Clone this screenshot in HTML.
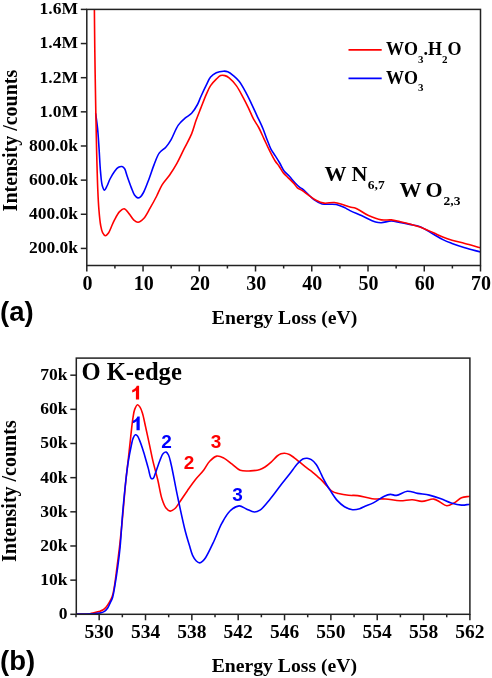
<!DOCTYPE html><html><head><meta charset="utf-8"><style>html,body{margin:0;padding:0;background:#fff;}svg{display:block;will-change:transform}</style></head><body>
<svg width="492" height="678" viewBox="0 0 492 678">
<defs><clipPath id="ct"><rect x="86.8" y="9.4" width="393.7" height="256.1"/></clipPath>
<clipPath id="cb"><rect x="76.3" y="358.1" width="393.6" height="257.1"/></clipPath></defs>
<g clip-path="url(#ct)" fill="none" stroke-width="1.60" stroke-linejoin="round" stroke-linecap="round">
<path stroke="#0000ff" d="M95.70,113.80 C96.33,118.73 97.06,123.25 97.60,128.60 C98.23,134.89 98.62,142.20 99.10,149.20 C99.59,156.46 99.88,164.82 100.50,171.40 C101.00,176.70 101.29,182.36 102.30,185.70 C102.89,187.65 103.71,190.07 104.50,190.10 C105.28,190.13 106.18,187.58 107.00,186.00 C108.03,184.01 108.81,181.34 110.00,179.00 C111.28,176.48 112.91,173.47 114.50,171.40 C115.78,169.73 117.10,168.09 118.50,167.30 C119.59,166.68 120.89,166.28 121.90,166.50 C122.88,166.71 123.75,167.46 124.50,168.50 C125.69,170.15 126.19,173.46 127.20,176.30 C128.41,179.72 129.97,184.25 131.30,187.60 C132.39,190.34 133.19,193.20 134.50,195.00 C135.47,196.33 136.70,197.71 137.80,197.90 C138.70,198.05 139.67,197.47 140.50,196.80 C141.62,195.91 142.46,194.42 143.50,192.50 C145.25,189.27 147.34,183.32 149.10,178.70 C150.84,174.12 152.26,169.29 154.00,164.90 C155.64,160.78 156.96,156.18 159.20,153.10 C161.05,150.55 163.84,149.40 165.80,147.20 C167.78,144.97 169.24,142.77 171.00,139.80 C173.38,135.81 175.50,128.99 178.30,125.10 C180.53,121.99 183.30,119.78 185.70,117.70 C187.71,115.96 189.78,115.21 191.60,113.30 C193.78,111.01 195.93,107.39 197.50,104.50 C198.87,101.97 199.45,99.78 200.70,97.00 C202.30,93.43 204.60,88.47 206.40,84.90 C207.87,81.99 208.82,79.17 210.60,77.10 C212.20,75.24 214.18,73.78 216.30,72.80 C218.44,71.81 221.32,71.31 223.40,71.20 C225.00,71.11 226.24,71.15 227.70,71.70 C229.55,72.39 231.57,74.08 233.40,75.60 C235.38,77.24 237.29,79.00 239.10,81.30 C241.30,84.08 243.31,87.81 245.30,91.40 C247.45,95.28 249.55,99.75 251.50,103.80 C253.34,107.64 254.89,111.17 256.70,115.10 C258.67,119.38 261.12,124.22 262.90,128.50 C264.49,132.32 265.63,136.00 267.00,139.50 C268.27,142.74 269.34,145.97 270.80,148.80 C272.14,151.39 273.81,153.53 275.30,155.90 C276.78,158.26 278.26,160.54 279.70,163.00 C281.20,165.57 282.38,168.71 284.10,171.00 C285.66,173.08 287.67,174.43 289.40,176.30 C291.21,178.25 292.96,180.64 294.70,182.50 C296.22,184.13 297.83,185.80 299.20,186.90 C300.20,187.70 300.95,187.90 302.00,188.70 C303.55,189.87 305.53,191.79 307.40,193.50 C309.48,195.40 311.48,197.88 313.90,199.60 C316.37,201.36 318.88,203.03 322.10,203.90 C326.09,204.97 332.28,203.67 336.30,204.50 C339.44,205.15 341.98,206.49 344.40,207.60 C346.47,208.55 347.78,209.52 350.00,210.60 C353.11,212.11 357.40,213.82 361.40,215.60 C365.88,217.59 371.86,220.95 375.60,222.00 C377.87,222.63 379.14,222.75 381.30,222.70 C384.17,222.63 388.10,221.01 391.30,221.00 C394.25,220.99 396.86,221.86 399.80,222.40 C402.98,222.98 406.37,223.69 409.70,224.40 C413.10,225.12 416.44,225.35 420.00,226.70 C424.31,228.34 429.36,231.86 433.50,234.20 C437.06,236.22 440.16,238.32 443.40,239.90 C446.32,241.33 448.83,242.22 452.00,243.40 C455.82,244.82 460.30,246.33 464.80,247.70 C469.72,249.20 475.20,250.57 480.40,252.00"/>
<path stroke="#ff0000" d="M94.30,0.00 C94.47,16.67 94.58,33.33 94.80,50.00 C95.02,66.67 95.30,83.33 95.60,100.00 C95.90,116.67 96.21,134.26 96.60,150.00 C96.95,164.08 97.33,179.04 97.80,190.00 C98.13,197.66 98.39,203.38 98.90,209.50 C99.35,214.97 99.82,220.77 100.60,225.00 C101.16,228.00 101.59,230.69 102.60,232.60 C103.35,234.00 104.41,235.74 105.40,235.80 C106.38,235.86 107.58,234.25 108.50,233.00 C109.70,231.37 110.51,228.66 111.50,226.50 C112.48,224.36 113.21,222.35 114.40,220.10 C115.82,217.43 117.68,213.53 119.60,211.60 C121.00,210.19 122.63,208.64 124.10,208.80 C125.77,208.98 127.43,211.81 129.00,213.60 C130.71,215.55 132.16,218.64 133.90,220.10 C135.21,221.20 136.54,222.27 138.00,222.20 C139.77,222.11 141.93,220.32 143.70,218.50 C146.10,216.04 148.08,211.56 150.20,207.90 C152.42,204.07 154.68,199.93 156.70,196.00 C158.63,192.23 159.95,188.29 162.10,184.80 C164.22,181.36 167.11,178.63 169.50,175.20 C172.06,171.53 174.54,167.61 176.90,163.40 C179.46,158.83 181.76,153.61 184.20,148.70 C186.65,143.77 189.59,138.77 191.60,133.90 C193.45,129.42 194.45,124.92 196.00,120.60 C197.49,116.43 199.04,112.62 200.70,108.40 C202.50,103.82 204.57,98.22 206.40,94.10 C207.84,90.87 208.89,88.13 210.60,85.60 C212.22,83.19 214.47,80.97 216.30,79.20 C217.78,77.76 219.06,76.16 220.60,75.60 C221.95,75.11 223.52,75.26 224.90,75.60 C226.35,75.96 227.62,76.66 229.10,77.80 C231.32,79.50 234.08,82.58 236.30,85.60 C238.83,89.05 241.11,93.73 243.20,97.60 C245.11,101.14 246.70,104.37 248.40,107.90 C250.17,111.56 251.77,115.77 253.60,119.20 C255.22,122.23 257.07,124.47 258.70,127.50 C260.55,130.93 262.25,135.07 264.00,138.80 C265.72,142.47 267.26,146.04 269.10,149.70 C271.02,153.51 273.41,158.31 275.30,161.20 C276.55,163.11 277.61,164.00 278.80,165.70 C280.23,167.75 281.54,170.60 283.20,172.70 C284.79,174.71 286.72,176.32 288.50,178.10 C290.28,179.88 292.34,181.67 293.90,183.40 C295.24,184.89 296.02,186.62 297.40,187.80 C298.74,188.94 300.36,189.34 302.00,190.40 C304.06,191.73 306.40,193.69 308.70,195.30 C311.06,196.96 313.42,198.90 316.00,200.20 C318.55,201.49 321.20,202.68 324.10,203.10 C327.26,203.55 331.12,202.21 334.30,202.50 C337.18,202.76 339.76,203.72 342.40,204.50 C344.99,205.26 347.63,206.47 350.00,207.10 C352.02,207.64 353.50,207.38 355.70,208.20 C359.21,209.51 364.13,213.63 368.50,215.60 C372.67,217.48 377.24,219.24 381.30,219.90 C384.79,220.47 388.12,219.58 391.30,219.90 C394.26,220.19 396.86,220.97 399.80,221.60 C402.98,222.29 406.38,223.02 409.70,223.90 C413.11,224.81 416.37,225.68 420.00,227.00 C424.24,228.54 429.36,230.97 433.50,232.80 C437.06,234.38 440.18,236.03 443.40,237.30 C446.34,238.46 448.83,239.27 452.00,240.20 C455.82,241.32 460.33,242.23 464.80,243.40 C469.75,244.70 475.20,246.27 480.40,247.70"/>
</g>
<g stroke="#222222" stroke-width="1.50" fill="none">
<rect x="86.80" y="9.40" width="393.70" height="256.10"/>
<line x1="80.80" y1="248.43" x2="86.80" y2="248.43"/>
<line x1="80.80" y1="214.28" x2="86.80" y2="214.28"/>
<line x1="80.80" y1="180.13" x2="86.80" y2="180.13"/>
<line x1="80.80" y1="145.99" x2="86.80" y2="145.99"/>
<line x1="80.80" y1="111.84" x2="86.80" y2="111.84"/>
<line x1="80.80" y1="77.69" x2="86.80" y2="77.69"/>
<line x1="80.80" y1="43.55" x2="86.80" y2="43.55"/>
<line x1="80.80" y1="9.40" x2="86.80" y2="9.40"/>
<line x1="86.80" y1="265.50" x2="86.80" y2="271.50"/>
<line x1="114.92" y1="265.50" x2="114.92" y2="268.50"/>
<line x1="143.04" y1="265.50" x2="143.04" y2="271.50"/>
<line x1="171.16" y1="265.50" x2="171.16" y2="268.50"/>
<line x1="199.29" y1="265.50" x2="199.29" y2="271.50"/>
<line x1="227.41" y1="265.50" x2="227.41" y2="268.50"/>
<line x1="255.53" y1="265.50" x2="255.53" y2="271.50"/>
<line x1="283.65" y1="265.50" x2="283.65" y2="268.50"/>
<line x1="311.77" y1="265.50" x2="311.77" y2="271.50"/>
<line x1="339.89" y1="265.50" x2="339.89" y2="268.50"/>
<line x1="368.01" y1="265.50" x2="368.01" y2="271.50"/>
<line x1="396.14" y1="265.50" x2="396.14" y2="268.50"/>
<line x1="424.26" y1="265.50" x2="424.26" y2="271.50"/>
<line x1="452.38" y1="265.50" x2="452.38" y2="268.50"/>
<line x1="480.50" y1="265.50" x2="480.50" y2="271.50"/>
</g>
<g font-family='"Liberation Serif", serif' font-weight="bold" font-size="17.5" fill="#000" text-anchor="end">
<text x="78" y="253.33">200.0k</text>
<text x="78" y="219.18">400.0k</text>
<text x="78" y="185.03">600.0k</text>
<text x="78" y="150.89">800.0k</text>
<text x="78" y="116.74">1.0M</text>
<text x="78" y="82.59">1.2M</text>
<text x="78" y="48.45">1.4M</text>
<text x="78" y="14.30">1.6M</text>
</g>
<g font-family='"Liberation Serif", serif' font-weight="bold" font-size="20" fill="#000" text-anchor="middle">
<text x="87.40" y="290.4">0</text>
<text x="143.64" y="290.4">10</text>
<text x="199.89" y="290.4">20</text>
<text x="256.13" y="290.4">30</text>
<text x="312.37" y="290.4">40</text>
<text x="368.61" y="290.4">50</text>
<text x="424.86" y="290.4">60</text>
<text x="481.10" y="290.4">70</text>
</g>
<text x="284.6" y="323.5" font-family='"Liberation Serif", serif' font-weight="bold" font-size="19.7" text-anchor="middle">Energy Loss (eV)</text>
<text transform="translate(16.5,211.4) rotate(-90)" x="0" y="0" font-family='"Liberation Serif", serif' font-weight="bold" font-size="20">Intensity /counts</text>
<text x="0" y="321.1" font-family='"Liberation Sans", sans-serif' font-weight="bold" font-size="27.5">(a)</text>
<line x1="348.5" y1="49.9" x2="381.7" y2="49.9" stroke="#ff0000" stroke-width="1.8"/>
<line x1="348.5" y1="78.4" x2="381.7" y2="78.4" stroke="#0000ff" stroke-width="1.8"/>
<text x="386" y="55.2" font-family='"Liberation Serif", serif' font-weight="bold" font-size="18">WO<tspan font-size="11" dy="7.4">3</tspan><tspan dy="-7.4">.H</tspan><tspan font-size="11" dy="7.4">2</tspan><tspan dy="-7.4">O</tspan></text>
<text x="386" y="83.8" font-family='"Liberation Serif", serif' font-weight="bold" font-size="18">WO<tspan font-size="11" dy="7.4">3</tspan></text>
<text x="324.5" y="181.1" font-family='"Liberation Serif", serif' font-weight="bold" font-size="22">W N<tspan font-size="13.5" dx="0.3" dy="7.7">6,7</tspan></text>
<text y="196.8" font-family='"Liberation Serif", serif' font-weight="bold" font-size="22"><tspan x="399.6">W</tspan><tspan x="425.4">O</tspan><tspan x="443.6" font-size="13.5" dy="8.2">2,3</tspan></text>
<g clip-path="url(#cb)" fill="none" stroke-width="1.60" stroke-linejoin="round" stroke-linecap="round">
<path stroke="#ff0000" d="M76.00,614.00 C80.67,613.90 86.79,614.06 90.00,613.70 C91.71,613.51 92.53,613.22 93.90,612.90 C95.45,612.54 97.26,612.11 98.80,611.60 C100.22,611.13 101.60,610.74 102.80,610.00 C104.00,609.27 104.99,608.34 106.00,607.20 C107.19,605.86 108.28,604.03 109.30,602.30 C110.36,600.50 111.41,598.80 112.20,596.60 C113.18,593.87 113.63,590.80 114.30,587.00 C115.26,581.56 116.13,573.67 117.00,567.00 C117.87,560.34 118.70,553.95 119.50,547.00 C120.37,539.44 121.11,532.39 122.00,523.30 C123.20,511.03 124.69,491.84 125.90,480.00 C126.74,471.74 127.52,466.02 128.30,459.00 C129.09,451.95 129.81,444.77 130.60,437.80 C131.37,431.01 132.15,422.93 133.00,417.70 C133.55,414.32 133.80,411.71 134.70,409.40 C135.42,407.54 136.50,404.83 137.50,404.70 C138.29,404.59 139.27,406.02 140.00,407.10 C140.99,408.56 141.64,410.61 142.40,413.00 C143.49,416.45 144.34,421.26 145.40,426.00 C146.68,431.69 148.20,438.73 149.50,444.80 C150.72,450.50 151.67,455.72 153.00,461.40 C154.42,467.44 156.30,473.75 157.80,480.00 C159.31,486.29 160.32,493.90 162.00,499.00 C163.19,502.63 164.33,505.91 166.00,508.00 C167.22,509.52 168.72,511.00 170.20,511.10 C171.71,511.21 173.57,509.74 175.00,508.50 C176.62,507.09 177.59,505.07 179.20,502.80 C181.51,499.54 184.64,494.63 187.40,490.70 C190.08,486.87 192.71,482.99 195.50,479.50 C198.12,476.22 201.18,473.44 203.60,470.30 C205.89,467.33 207.34,463.64 209.70,461.20 C211.81,459.02 214.32,456.54 216.80,456.10 C219.07,455.70 221.55,456.95 223.90,458.10 C226.66,459.46 229.38,462.16 232.10,464.20 C234.81,466.23 237.16,469.18 240.20,470.30 C243.25,471.42 247.06,471.04 250.40,470.90 C253.66,470.76 257.37,470.33 260.00,469.50 C262.00,468.87 263.31,468.08 265.00,467.00 C267.00,465.72 269.11,463.88 271.10,462.10 C273.19,460.23 275.34,457.45 277.20,456.00 C278.52,454.98 279.63,454.26 280.90,453.80 C282.07,453.37 283.21,453.14 284.50,453.20 C286.01,453.27 287.82,453.79 289.40,454.50 C291.10,455.27 292.60,456.55 294.30,457.80 C296.25,459.24 298.37,461.07 300.40,462.70 C302.43,464.33 304.58,466.11 306.50,467.60 C308.18,468.91 309.73,469.94 311.30,471.20 C312.89,472.47 314.40,473.83 316.00,475.20 C317.67,476.63 319.38,477.92 321.10,479.60 C323.10,481.55 325.23,484.24 327.20,486.30 C328.95,488.14 330.37,490.19 332.30,491.40 C334.13,492.54 336.09,492.90 338.40,493.50 C341.32,494.26 345.20,494.95 348.50,495.30 C351.63,495.63 354.31,495.18 357.70,495.60 C361.99,496.13 367.36,498.14 372.10,498.70 C376.62,499.23 380.95,498.68 385.50,499.00 C390.27,499.33 395.44,500.62 400.10,500.70 C404.37,500.77 408.58,499.52 412.40,499.70 C415.78,499.86 418.56,501.43 421.90,501.40 C425.62,501.37 430.51,498.71 433.70,499.10 C436.03,499.38 437.47,500.77 439.50,501.80 C441.81,502.97 444.33,505.65 446.80,505.80 C449.20,505.95 451.73,504.17 454.10,502.90 C456.64,501.54 458.83,498.92 461.50,497.80 C464.11,496.71 467.10,496.73 469.90,496.20"/>
<path stroke="#0000ff" d="M76.00,614.00 C81.43,613.93 87.95,614.03 92.30,613.80 C95.22,613.64 97.44,613.59 99.60,613.10 C101.43,612.68 103.12,612.20 104.50,611.30 C105.79,610.46 106.79,609.29 107.70,608.00 C108.69,606.59 109.31,604.80 110.10,603.10 C110.94,601.28 111.89,599.67 112.60,597.40 C113.57,594.30 114.06,590.29 114.80,586.00 C115.75,580.50 116.83,573.50 117.70,567.10 C118.60,560.53 119.37,554.56 120.10,547.10 C121.02,537.67 121.56,525.93 122.50,515.00 C123.48,503.58 124.79,489.83 125.90,480.00 C126.71,472.82 127.37,467.29 128.30,461.40 C129.15,456.01 130.30,450.21 131.20,446.00 C131.83,443.05 132.16,440.51 133.00,438.50 C133.63,436.99 134.42,435.03 135.30,434.80 C135.97,434.62 136.87,435.34 137.50,436.00 C138.35,436.89 138.77,438.35 139.50,440.10 C140.70,442.99 142.25,447.62 143.60,451.90 C145.19,456.92 146.90,463.57 148.30,468.40 C149.40,472.18 149.96,477.60 151.30,478.50 C151.87,478.88 152.64,478.71 153.20,478.30 C154.15,477.60 154.57,475.31 155.40,473.20 C156.70,469.88 158.51,463.79 160.00,460.20 C161.09,457.57 161.87,454.81 163.20,453.50 C164.08,452.62 165.33,451.90 166.20,452.10 C167.12,452.32 167.82,453.67 168.50,455.00 C169.59,457.13 170.14,460.22 171.10,464.20 C172.83,471.38 174.96,484.08 177.20,494.70 C179.66,506.36 182.93,522.07 185.30,531.30 C186.76,537.00 188.00,540.77 189.30,545.00 C190.43,548.69 191.25,552.44 192.60,555.30 C193.67,557.56 194.93,559.70 196.30,561.00 C197.32,561.97 198.51,562.89 199.60,562.90 C200.65,562.91 201.75,562.00 202.70,561.20 C203.81,560.28 204.57,559.25 205.70,557.50 C207.90,554.11 211.17,547.05 213.80,541.50 C216.58,535.64 218.95,528.57 221.90,523.20 C224.42,518.60 226.80,513.95 230.00,511.00 C232.71,508.50 236.30,506.05 239.20,505.90 C241.69,505.77 243.85,507.91 246.30,508.90 C248.90,509.95 251.94,511.95 254.40,512.00 C256.43,512.04 258.03,511.39 260.00,510.10 C263.15,508.04 266.89,502.86 270.20,498.90 C273.67,494.75 277.00,489.92 280.30,485.70 C283.39,481.74 286.43,478.08 289.40,474.30 C292.30,470.61 295.33,466.03 297.90,463.30 C299.66,461.43 301.10,459.82 302.80,459.00 C304.19,458.32 305.69,458.10 307.10,458.20 C308.52,458.30 309.94,458.76 311.30,459.60 C313.00,460.65 314.78,462.60 316.20,464.50 C317.72,466.53 318.83,469.17 320.00,471.50 C321.12,473.74 322.01,476.02 323.10,478.20 C324.18,480.35 325.31,482.45 326.50,484.50 C327.68,486.52 328.73,488.19 330.20,490.40 C332.17,493.36 334.82,497.76 337.40,500.60 C339.63,503.06 341.91,505.17 344.50,506.70 C346.99,508.17 349.95,509.41 352.60,509.70 C355.01,509.96 357.55,509.34 359.70,508.70 C361.64,508.12 363.02,507.06 365.00,506.20 C367.44,505.14 370.40,504.35 373.30,502.90 C376.78,501.16 381.09,497.62 384.30,496.20 C386.56,495.20 388.35,494.53 390.40,494.40 C392.42,494.27 394.22,495.64 396.50,495.40 C399.63,495.07 403.70,491.49 407.30,491.20 C410.73,490.92 414.05,492.76 417.60,493.40 C421.37,494.07 425.43,494.23 429.30,495.10 C433.23,495.99 437.26,497.36 441.00,498.70 C444.55,499.97 447.74,501.83 451.20,502.90 C454.58,503.95 458.23,504.93 461.50,505.10 C464.43,505.25 467.10,504.50 469.90,504.20"/>
</g>
<g stroke="#222222" stroke-width="1.50" fill="none">
<rect x="76.30" y="358.10" width="393.60" height="256.20"/>
<line x1="70.30" y1="614.30" x2="76.30" y2="614.30"/>
<line x1="70.30" y1="580.14" x2="76.30" y2="580.14"/>
<line x1="70.30" y1="545.98" x2="76.30" y2="545.98"/>
<line x1="70.30" y1="511.82" x2="76.30" y2="511.82"/>
<line x1="70.30" y1="477.66" x2="76.30" y2="477.66"/>
<line x1="70.30" y1="443.50" x2="76.30" y2="443.50"/>
<line x1="70.30" y1="409.34" x2="76.30" y2="409.34"/>
<line x1="70.30" y1="375.18" x2="76.30" y2="375.18"/>
<line x1="76.00" y1="614.30" x2="76.00" y2="617.30"/>
<line x1="99.17" y1="614.30" x2="99.17" y2="620.30"/>
<line x1="122.34" y1="614.30" x2="122.34" y2="617.30"/>
<line x1="145.51" y1="614.30" x2="145.51" y2="620.30"/>
<line x1="168.68" y1="614.30" x2="168.68" y2="617.30"/>
<line x1="191.85" y1="614.30" x2="191.85" y2="620.30"/>
<line x1="215.02" y1="614.30" x2="215.02" y2="617.30"/>
<line x1="238.19" y1="614.30" x2="238.19" y2="620.30"/>
<line x1="261.36" y1="614.30" x2="261.36" y2="617.30"/>
<line x1="284.54" y1="614.30" x2="284.54" y2="620.30"/>
<line x1="307.71" y1="614.30" x2="307.71" y2="617.30"/>
<line x1="330.88" y1="614.30" x2="330.88" y2="620.30"/>
<line x1="354.05" y1="614.30" x2="354.05" y2="617.30"/>
<line x1="377.22" y1="614.30" x2="377.22" y2="620.30"/>
<line x1="400.39" y1="614.30" x2="400.39" y2="617.30"/>
<line x1="423.56" y1="614.30" x2="423.56" y2="620.30"/>
<line x1="446.73" y1="614.30" x2="446.73" y2="617.30"/>
<line x1="469.90" y1="614.30" x2="469.90" y2="620.30"/>
</g>
<g font-family='"Liberation Serif", serif' font-weight="bold" font-size="17.5" fill="#000" text-anchor="end">
<text x="67.5" y="619.20">0</text>
<text x="67.5" y="585.04">10k</text>
<text x="67.5" y="550.88">20k</text>
<text x="67.5" y="516.72">30k</text>
<text x="67.5" y="482.56">40k</text>
<text x="67.5" y="448.40">50k</text>
<text x="67.5" y="414.24">60k</text>
<text x="67.5" y="380.08">70k</text>
</g>
<g font-family='"Liberation Serif", serif' font-weight="bold" font-size="19.5" fill="#000" text-anchor="middle">
<text x="99.17" y="638.3">530</text>
<text x="145.51" y="638.3">534</text>
<text x="191.85" y="638.3">538</text>
<text x="238.19" y="638.3">542</text>
<text x="284.54" y="638.3">546</text>
<text x="330.88" y="638.3">550</text>
<text x="377.22" y="638.3">554</text>
<text x="423.56" y="638.3">558</text>
<text x="469.90" y="638.3">562</text>
</g>
<text x="284.4" y="671.5" font-family='"Liberation Serif", serif' font-weight="bold" font-size="19.7" text-anchor="middle">Energy Loss (eV)</text>
<text transform="translate(15.9,562) rotate(-90)" x="0" y="0" font-family='"Liberation Serif", serif' font-weight="bold" font-size="20">Intensity /counts</text>
<text x="0" y="669.6" font-family='"Liberation Sans", sans-serif' font-weight="bold" font-size="27.5">(b)</text>
<text x="81.4" y="380.3" font-family='"Liberation Serif", serif' font-weight="bold" font-size="24.6">O K-edge</text>
<path transform="translate(132.20,399.40)" fill="#ff0000" d="M6.9,0 L6.9,-13.6 L4.6,-13.6 C4.0,-11.9 2.4,-10.3 0,-9.4 L0,-6.9 C1.5,-7.4 2.8,-8.2 3.7,-9.0 L3.7,0 Z"/>
<path transform="translate(132.80,430.20)" fill="#0000ff" d="M6.9,0 L6.9,-13.6 L4.6,-13.6 C4.0,-11.9 2.4,-10.3 0,-9.4 L0,-6.9 C1.5,-7.4 2.8,-8.2 3.7,-9.0 L3.7,0 Z"/>
<g font-family='"Liberation Sans", sans-serif' font-weight="bold" font-size="19">
<text x="161.2" y="447.6" fill="#0000ff">2</text>
<text x="183.8" y="469.3" fill="#ff0000">2</text>
<text x="210.8" y="447.9" fill="#ff0000">3</text>
<text x="232.3" y="500.5" fill="#0000ff">3</text>
</g>
</svg></body></html>
